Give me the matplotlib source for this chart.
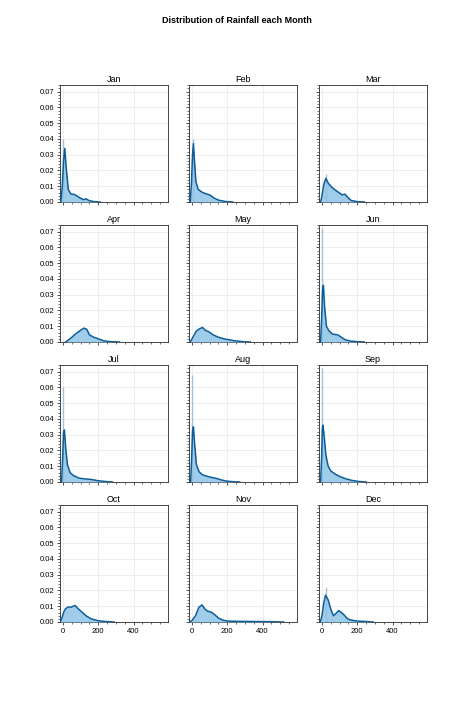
import numpy as np
import matplotlib.pyplot as plt
from matplotlib.ticker import MultipleLocator

plt.rcParams['font.family'] = ['Liberation Sans', 'DejaVu Sans']

months = ['Jan', 'Feb', 'Mar', 'Apr', 'May', 'Jun',
          'Jul', 'Aug', 'Sep', 'Oct', 'Nov', 'Dec']

# density curves: (rainfall, density)
jan_x = [-12, -4, 3, 10, 18, 30, 45, 65, 90, 115, 130, 150, 180, 210]
jan_y = [0, 0.010, 0.026, 0.034, 0.022, 0.008, 0.005, 0.0048, 0.003, 0.0015, 0.002, 0.0008, 0.0002, 0]
feb_x = [-10, -3, 3, 8, 14, 22, 35, 60, 85, 100, 125, 150, 190, 230]
feb_y = [0, 0.012, 0.030, 0.037, 0.026, 0.013, 0.008, 0.006, 0.005, 0.0045, 0.0025, 0.0012, 0.0003, 0]
mar_x = [-8, 0, 10, 22, 35, 50, 70, 95, 115, 130, 145, 165, 200, 240]
mar_y = [0, 0.004, 0.011, 0.015, 0.012, 0.010, 0.008, 0.006, 0.0045, 0.005, 0.003, 0.001, 0.0002, 0]
apr_x = [15, 30, 50, 70, 85, 100, 120, 135, 150, 175, 200, 230, 270, 320]
apr_y = [0, 0.0012, 0.003, 0.005, 0.0062, 0.0075, 0.0088, 0.008, 0.0045, 0.003, 0.002, 0.0008, 0.0002, 0]
may_x = [-10, 5, 25, 45, 60, 75, 95, 120, 150, 190, 240, 290, 330]
may_y = [0, 0.003, 0.007, 0.0085, 0.0092, 0.0075, 0.0065, 0.0045, 0.003, 0.0018, 0.0008, 0.0002, 0]
jun_x = [-8, -2, 3, 8, 15, 25, 40, 60, 90, 110, 130, 160, 200, 240]
jun_y = [0, 0.015, 0.033, 0.036, 0.022, 0.010, 0.007, 0.005, 0.0045, 0.003, 0.0015, 0.0006, 0.0002, 0]
jul_x = [-8, -2, 3, 8, 15, 25, 40, 60, 90, 120, 160, 200, 240, 280]
jul_y = [0, 0.015, 0.031, 0.033, 0.022, 0.011, 0.006, 0.004, 0.0025, 0.002, 0.0016, 0.0008, 0.0003, 0]
aug_x = [-8, -2, 3, 8, 15, 25, 40, 60, 100, 140, 170, 200, 240, 270]
aug_y = [0, 0.015, 0.032, 0.035, 0.024, 0.011, 0.0065, 0.0045, 0.0032, 0.0022, 0.0012, 0.0005, 0.0001, 0]
sep_x = [-8, -2, 2, 6, 14, 22, 35, 50, 75, 100, 130, 170, 210, 250]
sep_y = [0, 0.016, 0.034, 0.036, 0.027, 0.017, 0.010, 0.007, 0.005, 0.0035, 0.0022, 0.001, 0.0003, 0]
oct_x = [-15, -5, 5, 15, 30, 45, 55, 68, 85, 105, 130, 160, 200, 240, 290]
oct_y = [0, 0.003, 0.0065, 0.0085, 0.0095, 0.0094, 0.0098, 0.0105, 0.0085, 0.0065, 0.004, 0.002, 0.0008, 0.0003, 0]
nov_x = [-15, 0, 20, 40, 57, 75, 90, 110, 130, 150, 175, 200, 260, 350, 450, 520]
nov_y = [0, 0.001, 0.004, 0.0095, 0.0108, 0.008, 0.0068, 0.0062, 0.0045, 0.0025, 0.0012, 0.0006, 0.0004, 0.0003, 0.0002, 0]
dec_x = [-10, 0, 10, 20, 35, 50, 65, 80, 95, 110, 125, 145, 165, 200, 250, 290]
dec_y = [0, 0.004, 0.012, 0.017, 0.014, 0.008, 0.004, 0.0055, 0.0073, 0.006, 0.0045, 0.002, 0.0012, 0.0006, 0.0003, 0]

curves_x = [jan_x, feb_x, mar_x, apr_x, may_x, jun_x, jul_x, aug_x, sep_x, oct_x, nov_x, dec_x]
curves_y = [jan_y, feb_y, mar_y, apr_y, may_y, jun_y, jul_y, aug_y, sep_y, oct_y, nov_y, dec_y]

# faint histogram spike near the mode
spike_x = [2, 3, 22, 0, 0, 0, 0, 0, 0, 0, 0, 20]
spike_h = [0.040, 0.040, 0.018, 0, 0, 0.072, 0.060, 0.068, 0.072, 0, 0, 0.022]

fig = plt.figure(figsize=(4.74, 7.11), dpi=100)
fig.suptitle('Distribution of Rainfall each Month', fontsize=6.5,
             fontweight='bold', y=0.978)

lefts = [60, 189, 319]
tops = [85, 225, 365, 505]
W, H = 474.0, 711.0
aw, ah = 108, 117

for i, m in enumerate(months):
    r, c = divmod(i, 3)
    ax = fig.add_axes([lefts[c] / W, 1 - (tops[r] + ah) / H, aw / W, ah / H])
    x = curves_x[i]
    y = curves_y[i]
    if spike_h[i] > 0:
        ax.vlines(spike_x[i], 0, spike_h[i], color='#a3c0d8', lw=1.0, zorder=2)
    ax.fill_between(x, y, color='#8ec3e6', alpha=0.85, lw=0, zorder=3)
    ax.plot(x, y, color='#0b5d9a', lw=1.1, zorder=4)

    ax.set_xlim(-17, 595)
    ax.set_ylim(0, 0.0742)
    ax.set_title(m, fontsize=6.5, pad=2)
    ax.xaxis.set_major_locator(MultipleLocator(200))
    ax.xaxis.set_minor_locator(MultipleLocator(50))
    ax.yaxis.set_major_locator(MultipleLocator(0.01))
    ax.yaxis.set_minor_locator(MultipleLocator(0.002))
    ax.grid(True, which='major', color='#ebebeb', lw=0.6, zorder=0)
    ax.set_axisbelow(True)
    ax.tick_params(which='major', length=2.5, width=0.6, labelsize=5.5, pad=1.5, color='#333333')
    ax.tick_params(which='minor', length=1.5, width=0.5, color='#333333')
    for s in ax.spines.values():
        s.set_linewidth(0.7)
        s.set_color('#444444')
    if c != 0:
        ax.tick_params(labelleft=False)
    else:
        ax.yaxis.set_major_formatter(plt.FuncFormatter(lambda v, p: f'{v:.2f}'))
    if r != 3:
        ax.tick_params(labelbottom=False)

fig.savefig('out.png', dpi=100)
